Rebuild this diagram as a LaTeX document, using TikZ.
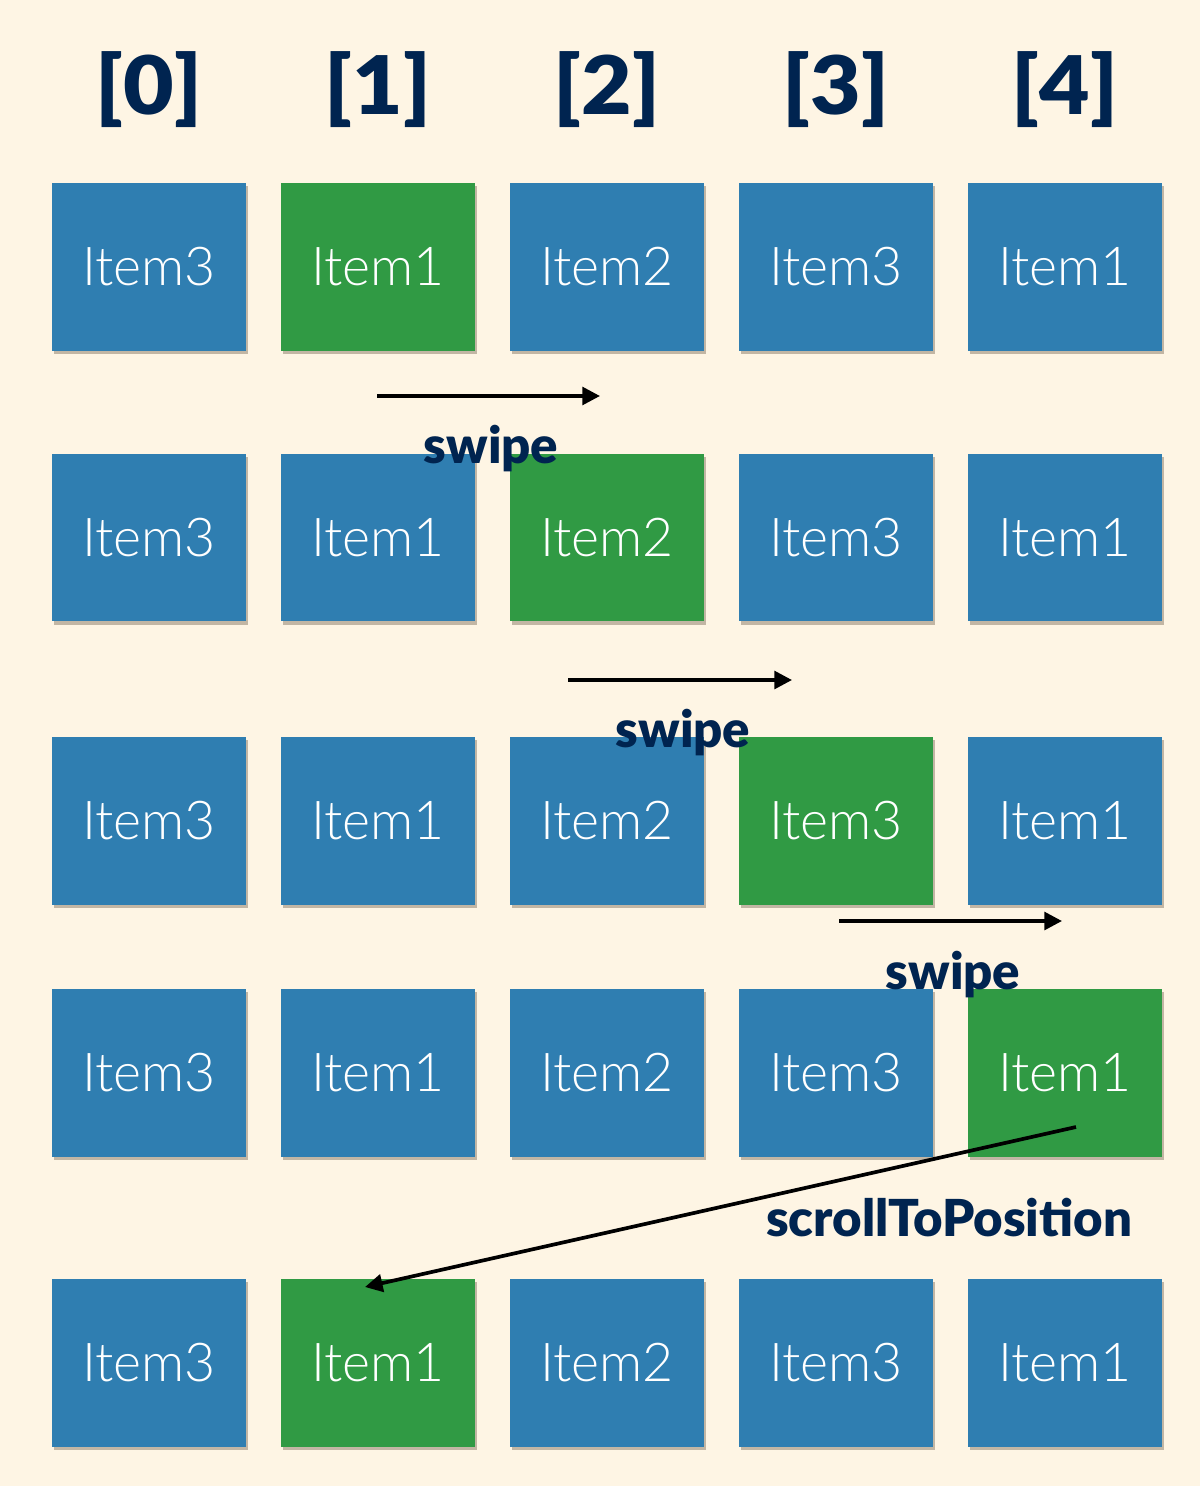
\documentclass[tikz,border=0pt]{standalone}
\usepackage{fontspec}
\usepackage{xcolor}
\usepackage{tikz}
\usetikzlibrary{arrows.meta,calc,shadows}
\newfontfamily\itemfont{Lato Light}
\newfontfamily\labelfont{Lato Black}
\definecolor{paper}{RGB}{254,245,228}
\definecolor{itemblue}{RGB}{47,126,177}
\definecolor{itemgreen}{RGB}{48,154,68}
\definecolor{navy}{RGB}{0,36,80}
\tikzset{
  cell/.style={minimum width=3.88cm, minimum height=3.36cm, inner sep=0pt,
    text=white, font=\itemfont\fontsize{30.5}{30.5}\selectfont,
    drop shadow={shadow xshift=1.2pt, shadow yshift=-1.8pt, opacity=0.3, fill=black!70!brown}},
  index/.style={text=navy, font=\labelfont\fontsize{46}{46}\selectfont, anchor=base, xscale=1.08},
  action/.style={text=navy, font=\labelfont\fontsize{29}{29}\selectfont, anchor=base, inner sep=0pt},
  move/.style={line width=2.1pt, -{Triangle[length=10pt, width=10pt]}}
}
\begin{document}
\begin{tikzpicture}[x=0.02cm, y=-0.02cm]
    % Background
    \fill[paper] (0,0) rectangle (1200,1486);
    \useasboundingbox (0,0) rectangle (1200,1486);

    % Indices
    \foreach \c/\x in {0/149,1/378,2/607,3/836,4/1065}
        \node[index] (idx-\c) at (\x,115) {[\c]};

    % Items, one row per step
    \foreach \r/\y/\g in {1/267/1,2/537.5/2,3/821/3,4/1073/4,5/1363/1} {
        \foreach \c/\x/\t in {0/149/Item3,1/378/Item1,2/607/Item2,3/836/Item3,4/1065/Item1} {
            \ifnum\c=\g \def\fillcol{itemgreen}\else \def\fillcol{itemblue}\fi
            \node[cell, fill=\fillcol] (item-\r-\c) at (\x,\y) {\t};
        }
    }

    % Swipes
    \coordinate (swipe-a) at (377,396);
    \coordinate (swipe-b) at (600,396);
    \draw[move] (swipe-a) -- (swipe-b);
    \node[action] (lbl-a) at (491,463) {swipe};

    \coordinate (swipe-c) at (568,680);
    \coordinate (swipe-d) at (792,680);
    \draw[move] (swipe-c) -- (swipe-d);
    \node[action] (lbl-b) at (683,747) {swipe};

    \coordinate (swipe-e) at (839,921);
    \coordinate (swipe-f) at (1062,921);
    \draw[move] (swipe-e) -- (swipe-f);
    \node[action] (lbl-c) at (953,989) {swipe};

    % Jump back
    \coordinate (jump-a) at ($(item-4-4)+(11,54)$);
    \coordinate (jump-b) at ($(item-5-1)+(-13,-76)$);
    \draw[move] (jump-a) -- (jump-b);
    \node[action] (lbl-d) at (949,1236) {scrollToPosition};
\end{tikzpicture}
\end{document}
